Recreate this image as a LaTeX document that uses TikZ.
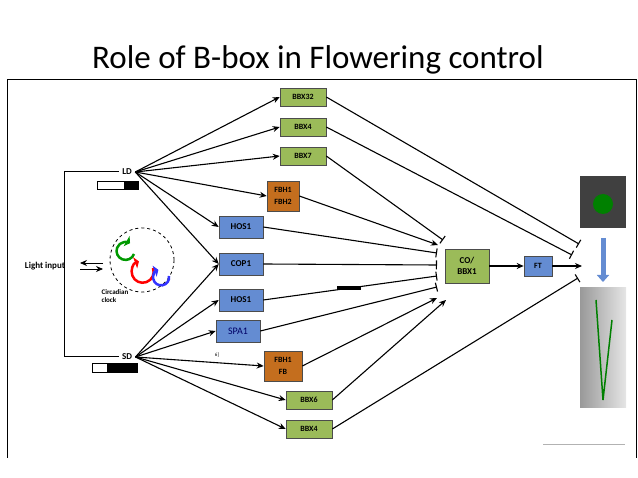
\documentclass[tikz,border=0pt]{standalone}
\usepackage{fontspec}
\setmainfont{Carlito}
\usetikzlibrary{arrows.meta}
\definecolor{gbox}{RGB}{155,187,89}
\definecolor{obox}{RGB}{196,110,30}
\definecolor{bbox}{RGB}{100,140,210}
\begin{document}
\begin{tikzpicture}[x=1pt,y=-1pt,
 box/.style={draw=black!70,line width=0.6pt,minimum height=18pt,font=\bfseries\fontsize{8}{9}\selectfont,inner sep=1pt},
 g/.style={box,fill=gbox,minimum width=46pt},
 o/.style={box,fill=obox,minimum width=32pt,minimum height=30pt,align=center},
 b/.style={box,fill=bbox,minimum width=44pt,minimum height=22pt},
 ar/.style={-{Stealth[length=7pt,width=6pt]},line width=1.1pt},
 inh/.style={-{Bar[width=9pt]},line width=1.1pt}]
\useasboundingbox (0,0) rectangle (638,478);
\node[font=\fontsize{33}{36}\selectfont] (title) at (318,60) {Role of B-box in Flowering control};
\draw[line width=1pt] (7,458) -- (7,80) -- (636,80) -- (636,458);
\draw[gray!60,line width=1pt] (543,445) -- (625,445);
\node[g] (bbx32) at (303,97) {BBX32};
\node[g] (bbx4a) at (303,127) {BBX4};
\node[g] (bbx7) at (303,156) {BBX7};
\node[o] (fbh12) at (283,196) {FBH1\\[3pt]FBH2};
\node[b,font=\bfseries\fontsize{9}{10}\selectfont] (hos1a) at (241,227) {HOS1};
\node[b,font=\bfseries\fontsize{9}{10}\selectfont] (cop1) at (241,264) {COP1};
\node[b,font=\bfseries\fontsize{9}{10}\selectfont] (hos1b) at (241,300) {HOS1};
\node[b,font=\fontsize{10}{11}\selectfont\color{blue!40!black}] (spa1) at (238,331) {SPA1};
\node[o,minimum width=38pt] (fbhfb) at (283,366) {FBH1\\[3pt]FB};
\node[g] (bbx6) at (309,400) {BBX6};
\node[g] (bbx4b) at (309,429) {BBX4};
\node[g,minimum width=44pt,minimum height=34pt,align=center,font=\bfseries\fontsize{9}{11}\selectfont] (co) at (467,266) {CO/\\BBX1};
\node[b,minimum width=28pt,minimum height=20pt] (ft) at (538,266) {FT};
\node[fill=black!75,minimum width=46pt,minimum height=52pt,inner sep=0] (p1) at (603,202) {};
\node[fill=green!50!black,circle,minimum size=20pt] (leaf) at (603,204) {};
\node[left color=gray!80,right color=gray!20,minimum width=46pt,minimum height=120pt,inner sep=0] (p2) at (603,348) {};
\draw[green!50!black,line width=1.5pt] (603,400) -- (596,300) (603,400) -- (612,320);
\coordinate (da) at (603,238); \coordinate (db) at (603,282);
\draw[-{Triangle[length=7pt,width=12pt]},line width=5pt,draw=bbox] (da) -- (db);
\node[font=\bfseries\fontsize{9}{10}\selectfont] (ld) at (127,172) {LD};
\node[font=\bfseries\fontsize{9}{10}\selectfont] (sd) at (127,357) {SD};
\draw[line width=1pt] (ld.west) -- (64,172) -- (64,357) -- (sd.west);
\draw (97,181) rectangle (138,189); \fill (124,181) rectangle (138,189);
\draw (92,363) rectangle (137,372); \fill (107,363) rectangle (137,372);
\node[font=\bfseries\fontsize{9}{10}\selectfont] (li) at (45,266) {Light input};
\coordinate (l1) at (80,263); \coordinate (l2) at (103,263);
\coordinate (l3) at (80,269); \coordinate (l4) at (103,269);
\draw[ar,line width=0.8pt] (l2) -- (l1);
\draw[ar,line width=0.8pt] (l3) -- (l4);
\node[circle,draw,dashed,line width=0.8pt,minimum size=64pt] (clk) at (142,260) {};
\draw[green!60!black,line width=2.5pt,-{Triangle[length=4pt]}] (134,254) arc (20:300:9);
\draw[red,line width=2.5pt,-{Triangle[length=4pt]}] (153,268) arc (-20:250:11);
\draw[blue!80,line width=2.5pt,-{Triangle[length=4pt]}] (169,276) arc (-10:250:8);
\node[font=\bfseries\fontsize{7}{8}\selectfont,align=left] (cc) at (115,296) {Circadian\\clock};
\node[font=\fontsize{5}{6}\selectfont] (six) at (217,355) {6]};
\foreach \t in {bbx32,bbx4a,bbx7,fbh12,hos1a}{\draw[ar] (ld.east) -- (\t.west);}
\draw[ar] (ld.east) -- (cop1.west);
\foreach \t in {cop1,hos1b,spa1,fbhfb,bbx6,bbx4b}{\draw[ar] (sd.east) -- (\t.west);}
\coordinate (c1) at (443,240); \coordinate (c2) at (438,245);
\coordinate (c3) at (437,253); \coordinate (c4) at (437,265);
\coordinate (c5) at (437,276); \coordinate (c6) at (437,287);
\coordinate (c7) at (437,298); \coordinate (c8) at (446,300);
\draw[inh] (bbx7.east) -- (c1);
\draw[ar] (fbh12.east) -- (c2);
\draw[inh] (hos1a.east) -- (c3);
\draw[inh] (cop1.east) -- (c4);
\draw[inh] (hos1b.east) -- (c5);
\fill (337,286) rectangle (361,290);
\draw[inh] (spa1.east) -- (c6);
\draw[ar] (fbhfb.east) -- (c7);
\draw[ar] (bbx6.east) -- (c8);
\coordinate (f1) at (579,244); \coordinate (f2) at (572,255);
\coordinate (f3) at (582,266); \coordinate (f4) at (578,278);
\draw[inh] (bbx32.east) -- (f1);
\draw[inh] (bbx4a.east) -- (f2);
\draw[inh] (bbx4b.east) -- (f4);
\draw[ar] (co.east) -- (ft.west);
\draw[ar] (ft.east) -- (f3);
\end{tikzpicture}
\end{document}
